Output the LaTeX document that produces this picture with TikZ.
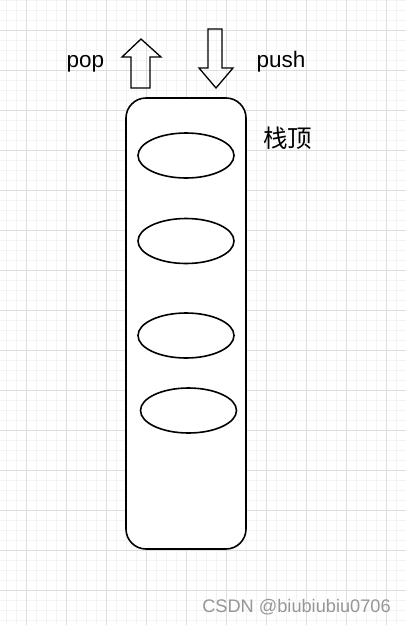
\documentclass[tikz,border=0pt]{standalone}
\usepackage{fontspec}
\setmainfont{Liberation Sans}
\newfontfamily\cjk{Noto Sans CJK SC}
\usetikzlibrary{shapes.geometric,positioning}
\definecolor{gridminor}{RGB}{243,243,243}
\definecolor{gridmajor}{RGB}{222,222,222}
\definecolor{marktext}{RGB}{150,150,150}
\tikzstyle{stackbox}=[draw,line width=1.6pt,rounded corners=20pt,minimum width=120pt,minimum height=451pt,inner sep=0pt]
\tikzstyle{slot}=[draw,ellipse,line width=1.6pt,minimum width=96pt,minimum height=45pt,inner sep=0pt]
\tikzstyle{hollow}=[draw,line width=1.3pt,line join=miter]
\tikzstyle{lbl}=[inner sep=0pt,anchor=base,font=\fontsize{22.5}{26}\selectfont]

\begin{document}
\begin{tikzpicture}[x=1pt,y=-1pt]
            \useasboundingbox (0,0) rectangle (406,625);
            \fill[white] (0,0) rectangle (406,625);
            % grid
            \foreach \gx in {6,16,...,406} \draw[gridminor,line width=0.6pt] (\gx,0) -- (\gx,625);
            \foreach \gy in {0,10,...,625} \draw[gridminor,line width=0.6pt] (0,\gy) -- (406,\gy);
            \foreach \gx in {26,66,...,406} \draw[gridmajor,line width=0.8pt] (\gx,0) -- (\gx,625);
            \foreach \gy in {30,70,...,625} \draw[gridmajor,line width=0.8pt] (0,\gy) -- (406,\gy);

            \node (stack) [stackbox,fill=white] at (186,323.5) {};
            \node (e1) [slot] at (186,155.5) {};
            \node (e2) [slot] at (186,241) {};
            \node (e3) [slot] at (186,335.5) {};
            \node (e4) [slot] at (188.5,410.5) {};

            % pop / push arrows
            \draw[hollow] (131,88) -- (131,57) -- (122,57) -- (141,39) -- (161,57) -- (150,57) -- (150,88) -- cycle;
            \draw[hollow] (208,29) -- (208,68) -- (199,68) -- (216,88) -- (233,68) -- (222,68) -- (222,29) -- cycle;

            \node (pop) [lbl] at (85.5,67) {pop};
            \node (push) [lbl] at (281,67) {push};
            \node (top) [inner sep=0pt,font=\fontsize{24.5}{28}\selectfont] at (287.5,138.5) {\cjk 栈顶};
            \node (mark) [inner sep=0pt,text=marktext,font=\fontsize{18.2}{21}\selectfont] at (296.5,607) {CSDN @biubiubiu0706};
        \end{tikzpicture}
\end{document}
